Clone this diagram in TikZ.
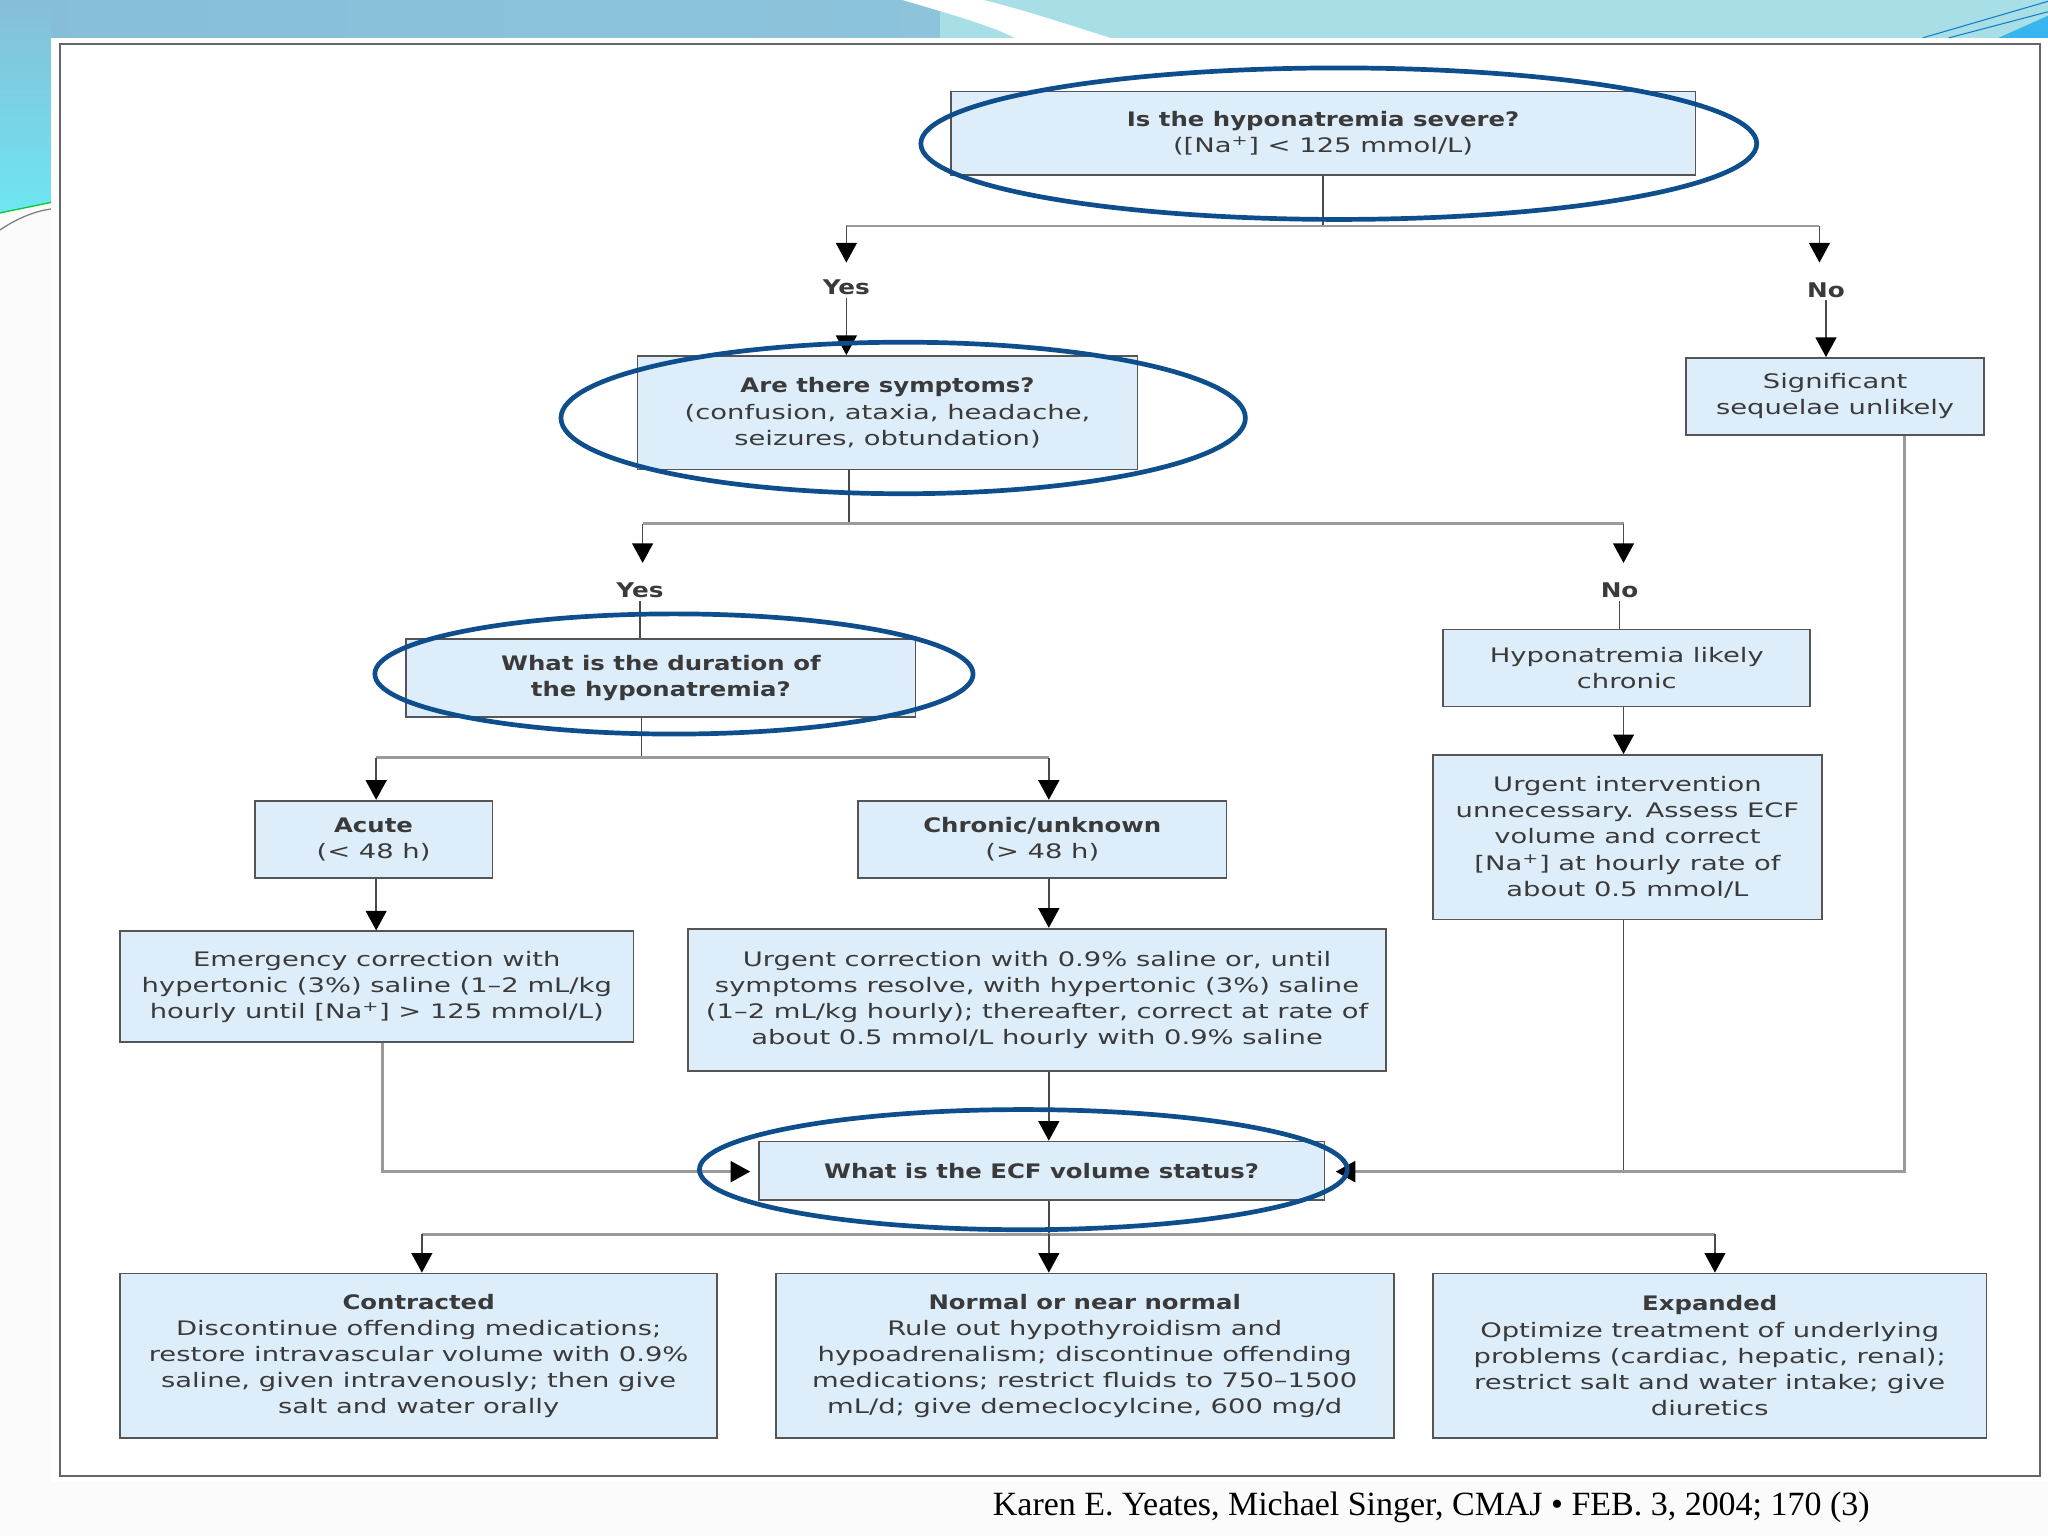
\documentclass[tikz,border=0pt]{standalone}
\usepackage{fontspec}
\usetikzlibrary{arrows.meta,calc}
\newfontfamily\boxfam[FakeStretch=1.37, BoldFeatures={FakeStretch=1.22}]{DejaVu Sans}
\newfontfamily\citefam{Liberation Serif}
\definecolor{boxfill}{HTML}{DDEEFA}
\definecolor{boxline}{HTML}{555555}
\definecolor{connline}{HTML}{4A4A4A}
\definecolor{hconn}{HTML}{9A9A9A}
\definecolor{hlblue}{HTML}{0E4E8C}
\definecolor{txt}{HTML}{3A3A3A}
\definecolor{bandblue}{HTML}{86BDD9}
\definecolor{bandcyan}{HTML}{A8DFE7}
\definecolor{stripcyan}{HTML}{6EE6F2}
\tikzset{
  box/.style={draw=boxline, fill=boxfill, line width=1.3pt, align=center, inner sep=0pt,
    text=txt, font=\boxfam\fontsize{15.3}{20}\selectfont},
  boldbox/.style={box, font=\boxfam\bfseries\fontsize{15.3}{20}\selectfont},
  lbl/.style={font=\boxfam\bfseries\fontsize{15.5}{18}\selectfont, text=txt, inner sep=2pt},
  conn/.style={draw=connline, line width=1.2pt},
  hline/.style={draw=hconn, line width=2pt},
  arr/.style={conn, -{Triangle[width=16pt,length=15pt,color=black]}},
  harr/.style={hline, -{Triangle[width=16pt,length=15pt,color=black]}},
  hl/.style={draw=hlblue, line width=3.6pt},
}
\begin{document}
\begin{tikzpicture}[x=1pt,y=-1pt]
\useasboundingbox (0,0) rectangle (1568,1176);
% slide background
\fill[white!97!gray] (0,0) rectangle (1568,1176);
\shade[left color=bandblue, right color=bandblue!80!bandcyan] (0,0) rectangle (720,29);
\fill[bandcyan] (720,0) rectangle (1568,29);
\fill[white] (691,0) .. controls (725,10) and (760,20) .. (777,29) -- (850,29) .. controls (815,18) and (785,8) .. (753,0) -- cycle;
\fill[bandblue!70!blue!60!cyan] (1568,12) -- (1568,29) -- (1530,29) -- cycle;
\draw[cyan!60!blue, line width=0.8pt] (1568,1) -- (1472,29);
\draw[cyan!60!blue, line width=0.8pt] (1568,9) -- (1492,29);
\shade[top color=bandblue, bottom color=stripcyan] (0,0) -- (39,0) -- (39,155) -- (0,163) -- cycle;
\draw[green!60!teal, line width=1pt] (0,163) -- (39,155);
\draw[gray, line width=1pt] (0,176) .. controls (12,168) and (25,162) .. (39,160);
% panel
\fill[white] (39,29) rectangle (1568,1135);
\draw[gray!80!black, line width=1.4pt] (46,34) -- (1562,34) -- (1562,1130) -- (46,1130) -- cycle;

% boxes
\node[box, minimum width=570pt, minimum height=64pt] (top) at (1013,102)
  {{\bfseries Is the hyponatremia severe?}\\([Na\textsuperscript{+}] < 125 mmol/L)};
\node[box, minimum width=383pt, minimum height=87pt] (sym) at (679.5,316)
  {{\bfseries Are there symptoms?}\\(confusion, ataxia, headache,\\seizures, obtundation)};
\node[box, minimum width=228pt, minimum height=59pt] (seq) at (1405,303.5)
  {Significant\\sequelae unlikely};
\node[boldbox, minimum width=390pt, minimum height=60pt] (dur) at (506,519)
  {What is the duration of\\the hyponatremia?};
\node[box, minimum width=182pt, minimum height=59pt] (acute) at (286,642.5)
  {{\bfseries Acute}\\(< 48 h)};
\node[box, minimum width=282pt, minimum height=59pt] (chron) at (798,642.5)
  {{\bfseries Chronic/unknown}\\(> 48 h)};
\node[box, minimum width=393pt, minimum height=85pt] (emerg) at (288.5,755.5)
  {Emergency correction with\\hypertonic (3\%) saline (1–2 mL/kg\\hourly until [Na\textsuperscript{+}] > 125 mmol/L)};
\node[box, minimum width=534pt, minimum height=109pt] (urgent) at (794,765.5)
  {Urgent correction with 0.9\% saline or, until\\symptoms resolve, with hypertonic (3\%) saline\\(1–2 mL/kg hourly); thereafter, correct at rate of\\about 0.5 mmol/L hourly with 0.9\% saline};
\node[boldbox, minimum width=433pt, minimum height=45pt] (ecf) at (797.5,896.5)
  {What is the ECF volume status?};
\node[box, minimum width=281pt, minimum height=59pt] (likely) at (1245.5,511.5)
  {Hyponatremia likely\\chronic};
\node[box, minimum width=298pt, minimum height=126pt] (interv) at (1246,641)
  {Urgent intervention\\unnecessary. Assess ECF\\volume and correct\\{}[Na\textsuperscript{+}] at hourly rate of\\about 0.5 mmol/L};
\node[box, minimum width=457pt, minimum height=126pt] (contr) at (320.5,1038)
  {{\bfseries Contracted}\\Discontinue offending medications;\\restore intravascular volume with 0.9\%\\saline, given intravenously; then give\\salt and water orally};
\node[box, minimum width=473pt, minimum height=126pt] (normal) at (830.5,1038)
  {{\bfseries Normal or near normal}\\Rule out hypothyroidism and\\hypoadrenalism; discontinue offending\\medications; restrict fluids to 750–1500\\mL/d; give demeclocylcine, 600 mg/d};
\node[box, minimum width=424pt, minimum height=126pt] (expand) at (1309,1038)
  {{\bfseries Expanded}\\Optimize treatment of underlying\\problems (cardiac, hepatic, renal);\\restrict salt and water intake; give\\diuretics};

% labels
\node[lbl] (yes1) at (648,220) {Yes};
\node[lbl] (no1) at (1398,222) {No};
\node[lbl] (yes2) at (490,452) {Yes};
\node[lbl] (no2) at (1240,452) {No};

% junction coordinates
\coordinate (j1) at (1013,173);
\coordinate (j1l) at (648,173);
\coordinate (j1r) at (1393,173);
\coordinate (j2) at (650,401);
\coordinate (j2l) at (492,401);
\coordinate (j2r) at (1243,401);
\coordinate (j3) at (491,580);
\coordinate (j3l) at (288,580);
\coordinate (j3r) at (803,580);
\coordinate (j4) at (803,945);
\coordinate (j4l) at (323,945);
\coordinate (j4r) at (1313,945);
\coordinate (eL) at (293,897);
\coordinate (eR) at (1458,897);
\coordinate (eM) at (1243,897);

% connectors
\draw[conn] (top.south -| j1) -- (j1);
\draw[hline] (j1l) -- (j1r);
\draw[arr] (j1l) -- (648,201);
\draw[arr] (j1r) -- (1393,201);
\draw[arr] (yes1.south) -- (yes1.south |- sym.north);
\draw[arr] (no1.south) -- (no1.south |- seq.north);

\draw[conn] (sym.south -| j2) -- (j2);
\draw[hline] (j2l) -- (j2r);
\draw[arr] (j2l) -- (492,431);
\draw[arr] (j2r) -- (1243,431);
\draw[conn] (yes2.south) -- (yes2.south |- dur.north);
\draw[conn] (no2.south) -- (no2.south |- likely.north);

\draw[conn] (dur.south -| j3) -- (j3);
\draw[hline] (j3l) -- (j3r);
\draw[arr] (j3l) -- (j3l |- acute.north);
\draw[arr] (j3r) -- (j3r |- chron.north);
\draw[arr] (acute.south -| j3l) -- (j3l |- emerg.north);
\draw[arr] (chron.south -| j3r) -- (j3r |- urgent.north);

\draw[harr] (emerg.south -| eL) -- (eL) -- ([xshift=-6pt]ecf.west |- eL);
\draw[arr] (urgent.south -| j4) -- (j4 |- ecf.north);
\draw[arr] (likely.south -| eM) -- (eM |- interv.north);
\draw[conn] (interv.south -| eM) -- (eM);
\draw[harr] (seq.south -| eR) -- (eR) -- ([xshift=8pt]ecf.east |- eR);

\draw[conn] (ecf.south -| j4) -- (j4);
\draw[hline] (j4l) -- (j4r);
\draw[arr] (j4l) -- (j4l |- contr.north);
\draw[arr] (j4) -- (j4 |- normal.north);
\draw[arr] (j4r) -- (j4r |- expand.north);

% highlight ellipses
\draw[hl] ($(top.center)+(12,8)$) ellipse [x radius=320pt, y radius=58pt];
\draw[hl] ($(sym.center)+(12,4)$) ellipse [x radius=262pt, y radius=58pt];
\draw[hl] ($(dur.center)+(10,-3)$) ellipse [x radius=229pt, y radius=46pt];
\draw[hl] ($(ecf.center)+(-14,-1)$) ellipse [x radius=248pt, y radius=46pt];

% citation
\node[font=\citefam\fontsize{26}{30}\selectfont, text=black, anchor=base west, inner sep=0pt] (cite) at (760,1160)
  {Karen E. Yeates, Michael Singer, CMAJ • FEB. 3, 2004; 170 (3)};
\end{tikzpicture}
\end{document}
